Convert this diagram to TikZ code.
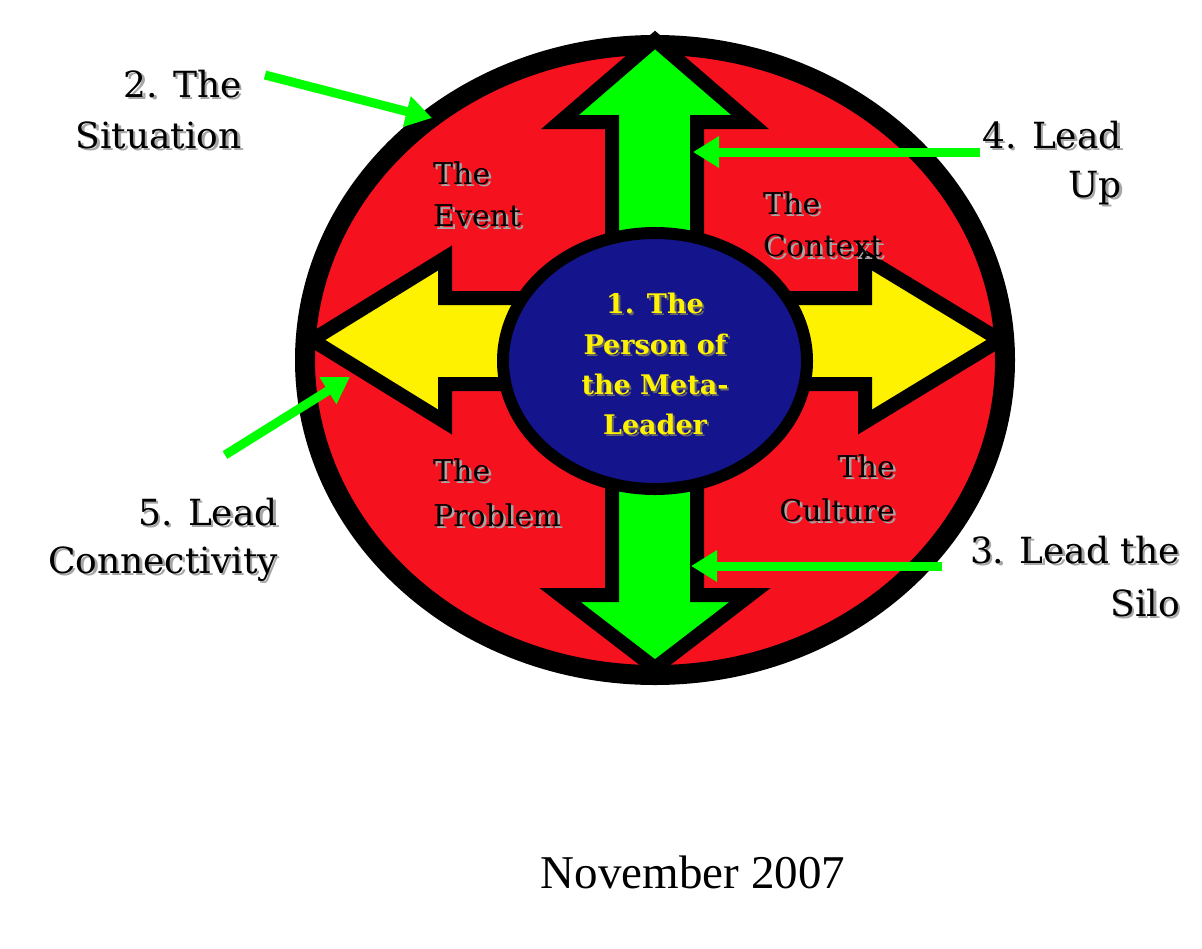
\documentclass[tikz,border=0pt]{standalone}
\usepackage{fontspec}
\setmainfont{DejaVu Serif}
\newfontfamily\nov{Liberation Serif}
\usetikzlibrary{arrows.meta}
\definecolor{bigred}{RGB}{245,18,30}
\tikzset{
 lbl/.style={font=\fontsize{36}{38}\selectfont, inner sep=0pt},
 inlbl/.style={font=\fontsize{30}{32}\selectfont, inner sep=0pt},
 ctr/.style={font=\fontsize{27}{29}\selectfont\bfseries, inner sep=0pt, text=yellow, anchor=center},
 ptr/.style={draw=green, line width=9pt, -{Triangle[length=26pt,width=30pt]}, green}
}
\newcommand{\stx}[4]{%
 \node[#1,text=gray!70,anchor=#2] at ([xshift=2.5pt,yshift=-2.5pt]#3) {#4};
 \node[#1,anchor=#2] at (#3) {#4};}
\begin{document}
\begin{tikzpicture}[x=1pt,y=-1pt]
\useasboundingbox[fill=white] (0,0) rectangle (1202,948);
\draw[fill=bigred, draw=black, line width=20pt] (655,360) ellipse [x radius=350, y radius=315];
\draw[fill=green, draw=black, line width=14pt, line join=miter]
 (655,40) -- (750,122) -- (697,122) -- (697,595) -- (750,595) -- (655,668) -- (560,595) -- (612,595) -- (612,122) -- (560,122) -- cycle;
\draw[fill=yellow, draw=black, line width=14pt, line join=miter]
 (312,340) -- (445,258) -- (445,298) -- (865,298) -- (865,258) -- (1000,340) -- (865,422) -- (865,384) -- (445,384) -- (445,422) -- cycle;
\draw[draw=black, line width=12pt, fill={rgb,255:red,20;green,20;blue,140}] (655,361) ellipse [x radius=152, y radius=128];
\foreach \t/\y in {{1. The}/303,{Person of}/344,{the Meta-}/384,{Leader}/424}{
 \node[ctr,text=black!60] at (657,\y+2) {\t};
 \node[ctr] at (655,\y) {\t};}
\stx{inlbl}{west}{433,173}{The}
\stx{inlbl}{west}{433,216}{Event}
\stx{inlbl}{west}{763,203}{The}
\stx{inlbl}{west}{763,246}{Context}
\stx{inlbl}{west}{433,470}{The}
\stx{inlbl}{west}{433,515}{Problem}
\stx{inlbl}{east}{895,466}{The}
\stx{inlbl}{east}{895,510}{Culture}
\stx{lbl}{east}{242,84}{2. The}
\stx{lbl}{east}{242,135}{Situation}
\stx{lbl}{east}{1122,135}{4. Lead}
\stx{lbl}{east}{1122,188}{Up}
\stx{lbl}{east}{278,512}{5. Lead}
\stx{lbl}{east}{278,564}{Connectivity}
\stx{lbl}{east}{1180,550}{3. Lead the}
\stx{lbl}{east}{1180,603}{Silo}
\coordinate (p2a) at (265,75); \coordinate (p2b) at (432,118);
\coordinate (p4a) at (980,152); \coordinate (p4b) at (693,152);
\coordinate (p5a) at (225,455); \coordinate (p5b) at (350,377);
\coordinate (p3a) at (942,566); \coordinate (p3b) at (691,566);
\draw[ptr] (p2a) -- (p2b);
\draw[ptr] (p4a) -- (p4b);
\draw[ptr] (p5a) -- (p5b);
\draw[ptr] (p3a) -- (p3b);
\node[font=\nov\fontsize{47}{49}\selectfont, inner sep=0pt] (date) at (693,872) {November 2007};
\end{tikzpicture}
\end{document}
